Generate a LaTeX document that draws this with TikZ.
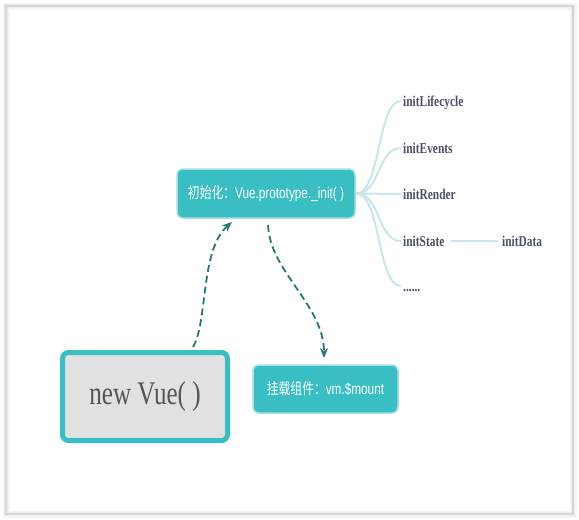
\documentclass[tikz,border=0pt]{standalone}
\usepackage{fontspec}
\usepackage{graphicx}
\usetikzlibrary{arrows.meta}
\setmainfont{Liberation Serif}
\newfontfamily\cjkf{Noto Sans CJK SC}
\newfontfamily\latsans{Liberation Sans}
\newfontfamily\serifb{Liberation Serif Bold}
\newcommand\sq[1]{\scalebox{0.76}[1]{#1}}
\definecolor{teal1}{RGB}{57,191,195}
\definecolor{tealbd}{RGB}{170,223,226}
\definecolor{arrowc}{RGB}{38,118,118}
\definecolor{branch}{RGB}{200,230,234}
\definecolor{labc}{RGB}{75,80,102}
\definecolor{framec}{RGB}{214,214,214}
\definecolor{boxgray}{RGB}{225,225,225}
\definecolor{vuetext}{RGB}{85,85,85}
\tikzset{
  tealbox/.style={draw=tealbd, line width=1.5pt, fill=teal1, rounded corners=6pt,
    text=white, inner sep=0pt, font=\fontsize{15.5}{18}\selectfont},
  lab/.style={anchor=west, inner xsep=2pt, inner ysep=0pt, text height=11pt, text depth=1pt,
    text=labc, font=\serifb\fontsize{15}{18}\selectfont},
  br/.style={draw=branch, line width=2pt},
  dasharrow/.style={draw=arrowc, line width=1.8pt, dash pattern=on 7pt off 4pt,
    -{Stealth[length=10pt,width=8pt]}},
}
\begin{document}
\begin{tikzpicture}[x=1pt,y=-1pt]
\useasboundingbox (0,0) rectangle (579,520);
% frame with soft shadow
\draw[gray!8, line width=7pt] (6,6) rectangle (573,514);
\draw[gray!14, line width=4.5pt] (6,6) rectangle (573,514);
\draw[framec, line width=2pt] (6,6) rectangle (573,514);

% main nodes
\node[tealbox, minimum width=178pt, minimum height=49pt] (init) at (266,193.5)
  {\sq{\cjkf 初始化：\latsans Vue.prototype.\_init( )}};
\node[tealbox, minimum width=145pt, minimum height=48pt] (mount) at (325.5,389)
  {\sq{\cjkf 挂载组件：\latsans vm.\$mount}};
\node[draw=teal1, line width=5pt, fill=boxgray, rounded corners=6pt,
  minimum width=165pt, minimum height=88pt, inner sep=0pt, text=vuetext,
  font=\fontsize{33}{36}\selectfont] (vue) at (145,396.5) {\sq{new Vue( )}};

% branch labels
\node[lab] (l1) at (401,101) {\sq{initLifecycle}};
\node[lab] (l2) at (401,148) {\sq{initEvents}};
\node[lab] (l3) at (401,194) {\sq{initRender}};
\node[lab] (l4) at (401,241) {\sq{initState}};
\node[lab] (l5) at (401,286) {\sq{......}};
\node[lab] (l6) at (500,241) {\sq{initData}};

% branches
\coordinate (src) at (356,193.5);
\foreach \t in {l1,l2,l4,l5}{
  \draw[br] (src) .. controls (381,193.5) and (377,0|-\t.west) .. (\t.west);
}
\draw[br] (src) -- (l3.west);
\draw[br, shorten <=4pt, shorten >=2pt] (l4.east) -- (l6.west);

% dashed arrows
\coordinate (a1s) at (193,347);
\coordinate (a1e) at (232,222);
\draw[dasharrow] (a1s) .. controls (208,322) and (200,250) .. (a1e);
\coordinate (a2s) at (268,225);
\coordinate (a2e) at (324,358);
\draw[dasharrow] (a2s) .. controls (270,272) and (324,305) .. (a2e);
\end{tikzpicture}
\end{document}
